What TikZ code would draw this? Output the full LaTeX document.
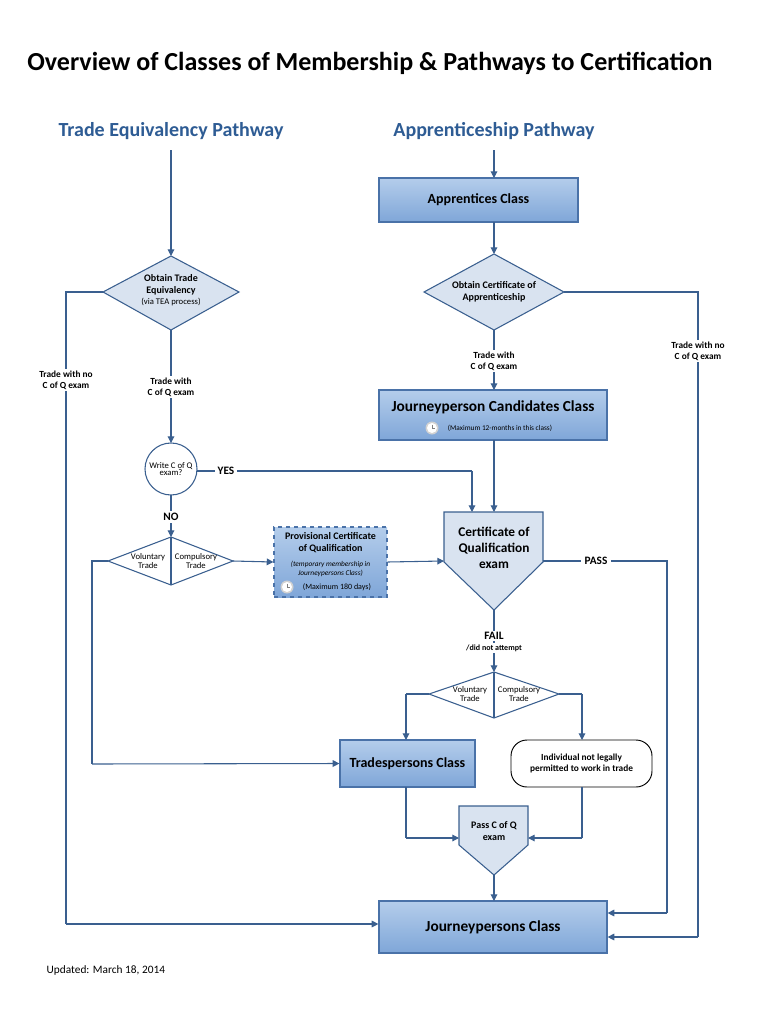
\documentclass[tikz,border=0pt]{standalone}
\usepackage{fontspec}
\setmainfont{Carlito}
\usetikzlibrary{shapes.geometric,arrows.meta,calc}
\definecolor{ln}{HTML}{3A5F8F}
\definecolor{bx}{HTML}{4A72A8}
\definecolor{btop}{HTML}{B4CDEB}
\definecolor{bbot}{HTML}{7FA6D8}
\definecolor{lf}{HTML}{D9E3F0}
\definecolor{tt}{HTML}{2E5C94}
\begin{document}
\begin{tikzpicture}[x=0.75pt,y=-0.75pt,
  cls/.style={draw=bx,line width=0.9pt,top color=btop,bottom color=bbot,font=\bfseries\fontsize{10.5}{12}\selectfont,align=center,inner sep=0},
  dia/.style={draw=ln,fill=lf,line width=0.8pt},
  ar/.style={draw=ln,line width=0.8pt,-{Triangle[length=5pt,width=5pt]}},
  ln/.style={draw=ln,line width=0.8pt},
  lab/.style={font=\bfseries\fontsize{7}{8}\selectfont,align=center,inner sep=1pt},
  clock/.pic={\fill[gray!35] (0,0) circle (6.5); \fill[white] (0,0) circle (5); \draw[gray,line width=0.5pt] (0,-3.5)--(0,0)--(3,0);}
]
\useasboundingbox (0,0) rectangle (768,1024);
\node[font=\bfseries\fontsize{19.5}{22}\selectfont] (title) at (370,63) {Overview of Classes of Membership \& Pathways to Certification};
\node[font=\bfseries\fontsize{15}{17}\selectfont,text=tt] (tep) at (171,131) {Trade Equivalency Pathway};
\node[font=\bfseries\fontsize{15}{17}\selectfont,text=tt] (ap) at (494,131) {Apprenticeship Pathway};

% shapes
\node[cls,minimum width=199*0.75pt,minimum height=44*0.75pt] (appr) at (478.5,200) {Apprentices Class};
\draw[dia] (103,292)--(171,256)--(239,292)--(171,330)--cycle;
\node[font=\bfseries\fontsize{7.5}{9}\selectfont,align=center] (d1) at (171,290) {Obtain Trade\\Equivalency\\[-1pt]{\mdseries\fontsize{6.5}{7}\selectfont(via TEA process)}};
\draw[dia] (424,292)--(494,254)--(564,292)--(494,330)--cycle;
\node[font=\bfseries\fontsize{7.5}{9}\selectfont,align=center] (d2) at (494,292) {Obtain Certificate of\\Apprenticeship};
\node[cls,minimum width=228*0.75pt,minimum height=50*0.75pt] (jc) at (493,415) {};
\node[font=\bfseries\fontsize{11.5}{13}\selectfont] (jct) at (493,407) {Journeyperson Candidates Class};
\pic at (432,428) {clock};
\node[font=\fontsize{5.5}{6}\selectfont] (jcn) at (500,428) {(Maximum 12-months in this class)};
\draw[ln,fill=white] (171,469) circle (26);
\node[font=\fontsize{6.5}{7}\selectfont,align=center] (circ) at (171,469) {Write C of Q\\[-2pt]exam?};
\draw[dia] (444,512)--(543,512)--(543,562)--(494,610)--(444,562)--cycle;
\node[font=\bfseries\fontsize{10}{12}\selectfont,align=center] (coq) at (494,548) {Certificate of\\Qualification\\exam};
\draw[dia,fill=white] (108,561)--(171,537)--(233,561)--(171,585)--cycle;
\draw[ln] (171,537)--(171,585);
\node[font=\fontsize{6.5}{7}\selectfont,align=center] (v1) at (148,561) {Voluntary\\Trade};
\node[font=\fontsize{6.5}{7}\selectfont,align=center] (c1) at (196,561) {Compulsory\\Trade};
\node[draw=bx,dashed,line width=0.9pt,top color=btop,bottom color=bbot,minimum width=113*0.75pt,minimum height=70*0.75pt] (prov) at (330.5,562) {};
\node[font=\bfseries\fontsize{7.5}{9}\selectfont,align=center] (provt) at (330.5,543) {Provisional Certificate\\of Qualification};
\node[font=\itshape\fontsize{5.5}{6.5}\selectfont,align=center] (provi) at (330.5,569) {(temporary membership in\\Journeypersons Class)};
\pic at (287,587) {clock};
\node[font=\fontsize{6}{7}\selectfont] (provm) at (337,587) {(Maximum 180 days)};
\draw[dia,fill=white] (429,694)--(494,672)--(559,694)--(494,718)--cycle;
\draw[ln] (494,672)--(494,718);
\node[font=\fontsize{6.5}{7}\selectfont,align=center] (v2) at (470,694) {Voluntary\\Trade};
\node[font=\fontsize{6.5}{7}\selectfont,align=center] (c2) at (519,694) {Compulsory\\Trade};
\node[cls,minimum width=135*0.75pt,minimum height=47*0.75pt] (tp) at (407.5,763.5) {Tradespersons Class};
\node[draw=black,line width=0.7pt,rounded corners=12pt,minimum width=141*0.75pt,minimum height=47*0.75pt,font=\bfseries\fontsize{7}{8.5}\selectfont,align=center] (ind) at (581.5,763.5) {Individual not legally\\permitted to work in trade};
\draw[dia] (459,806)--(528,806)--(528,845)--(494,875)--(459,845)--cycle;
\node[font=\bfseries\fontsize{7.5}{9}\selectfont,align=center] (pq) at (494,831) {Pass C of Q\\exam};
\node[cls,minimum width=228*0.75pt,minimum height=52*0.75pt,font=\bfseries\fontsize{11.5}{13}\selectfont] (jp) at (493,927) {Journeypersons Class};
\node[font=\fontsize{8.5}{10}\selectfont,anchor=west] (upd) at (42,970) {Updated: March 18, 2014};

% named points
\coordinate (tepb) at (171,150); \coordinate (apb) at (494,150);
\coordinate (apt) at (494,178); \coordinate (apbt) at (494,222);
\coordinate (d1t) at (171,256); \coordinate (d1b) at (171,330); \coordinate (d1l) at (103,292);
\coordinate (d2t) at (494,254); \coordinate (d2b) at (494,330); \coordinate (d2r) at (564,292);
\coordinate (ct) at (444,512); \coordinate (cpt) at (494,610);
\coordinate (vt) at (171,537); \coordinate (vl) at (108,561); \coordinate (vr) at (233,561);
\coordinate (wt) at (494,672); \coordinate (wl) at (429,694); \coordinate (wr) at (559,694);
\coordinate (pt) at (494,806); \coordinate (pb) at (494,875);

% connectors
\draw[ar] (tepb) -- (d1t);
\draw[ar] (apb) -- (apt);
\draw[ar] (apbt) -- (d2t);
\draw[ar] (d2b) -- (494,390);
\node[lab,fill=white] (l1) at (494,361) {Trade with\\C of Q exam};
\draw[ln] (d2r) -- (698,292) -- (698,937);
\draw[ar] (698,937) -- (jp.east |- 0,937);
\node[lab,fill=white] (l2) at (698,351) {Trade with no\\C of Q exam};
\draw[ln] (d1l) -- (66,292) -- (66,924);
\draw[ar] (66,924) -- (jp.west |- 0,924);
\node[lab,fill=white] (l3) at (66,380) {Trade with no\\C of Q exam};
\draw[ar] (d1b) -- (171,443);
\node[lab,fill=white] (l4) at (171,387) {Trade with\\C of Q exam};
\draw[ln] (197,471) -- (472,471);
\draw[ar] (472,471) -- (472,512);
\node[font=\bfseries\fontsize{8.5}{10}\selectfont,fill=white,inner sep=2pt] (yes) at (226,471) {YES};
\draw[ar] (494,440) -- (494,512);
\draw[ar] (171,495) -- (vt);
\node[font=\bfseries\fontsize{8.5}{10}\selectfont,fill=white,inner sep=2pt] (no) at (171,517) {NO};
\draw[ar] (vr) -- (prov.west);
\draw[ar] (prov.east) -- (444,561);
\draw[ln] (vl) -- (92,561) -- (92,764);
\draw[ar] (92,764) -- (tp.west);
\draw[ln] (543,561) -- (667,561) -- (667,913);
\draw[ar] (667,913) -- (jp.east |- 0,913);
\node[font=\bfseries\fontsize{8.5}{10}\selectfont,fill=white,inner sep=3pt] (pass) at (596,561) {PASS};
\draw[ar] (cpt) -- (wt);
\node[font=\bfseries\fontsize{8.5}{10}\selectfont,fill=white,inner sep=1pt] (fail) at (494,636) {FAIL};
\node[font=\bfseries\fontsize{6}{7}\selectfont,fill=white,inner sep=1pt] (dna) at (494,648) {/did not attempt};
\draw[ln] (wl) -- (406,694);
\draw[ar] (406,694) -- (406,740);
\draw[ln] (wr) -- (582,694);
\draw[ar] (582,694) -- (582,740);
\draw[ln] (406,787) -- (406,838);
\draw[ar] (406,838) -- (459,838);
\draw[ln] (582,787) -- (582,838);
\draw[ar] (582,838) -- (528,838);
\draw[ar] (pb) -- (494,901);
\end{tikzpicture}
\end{document}
